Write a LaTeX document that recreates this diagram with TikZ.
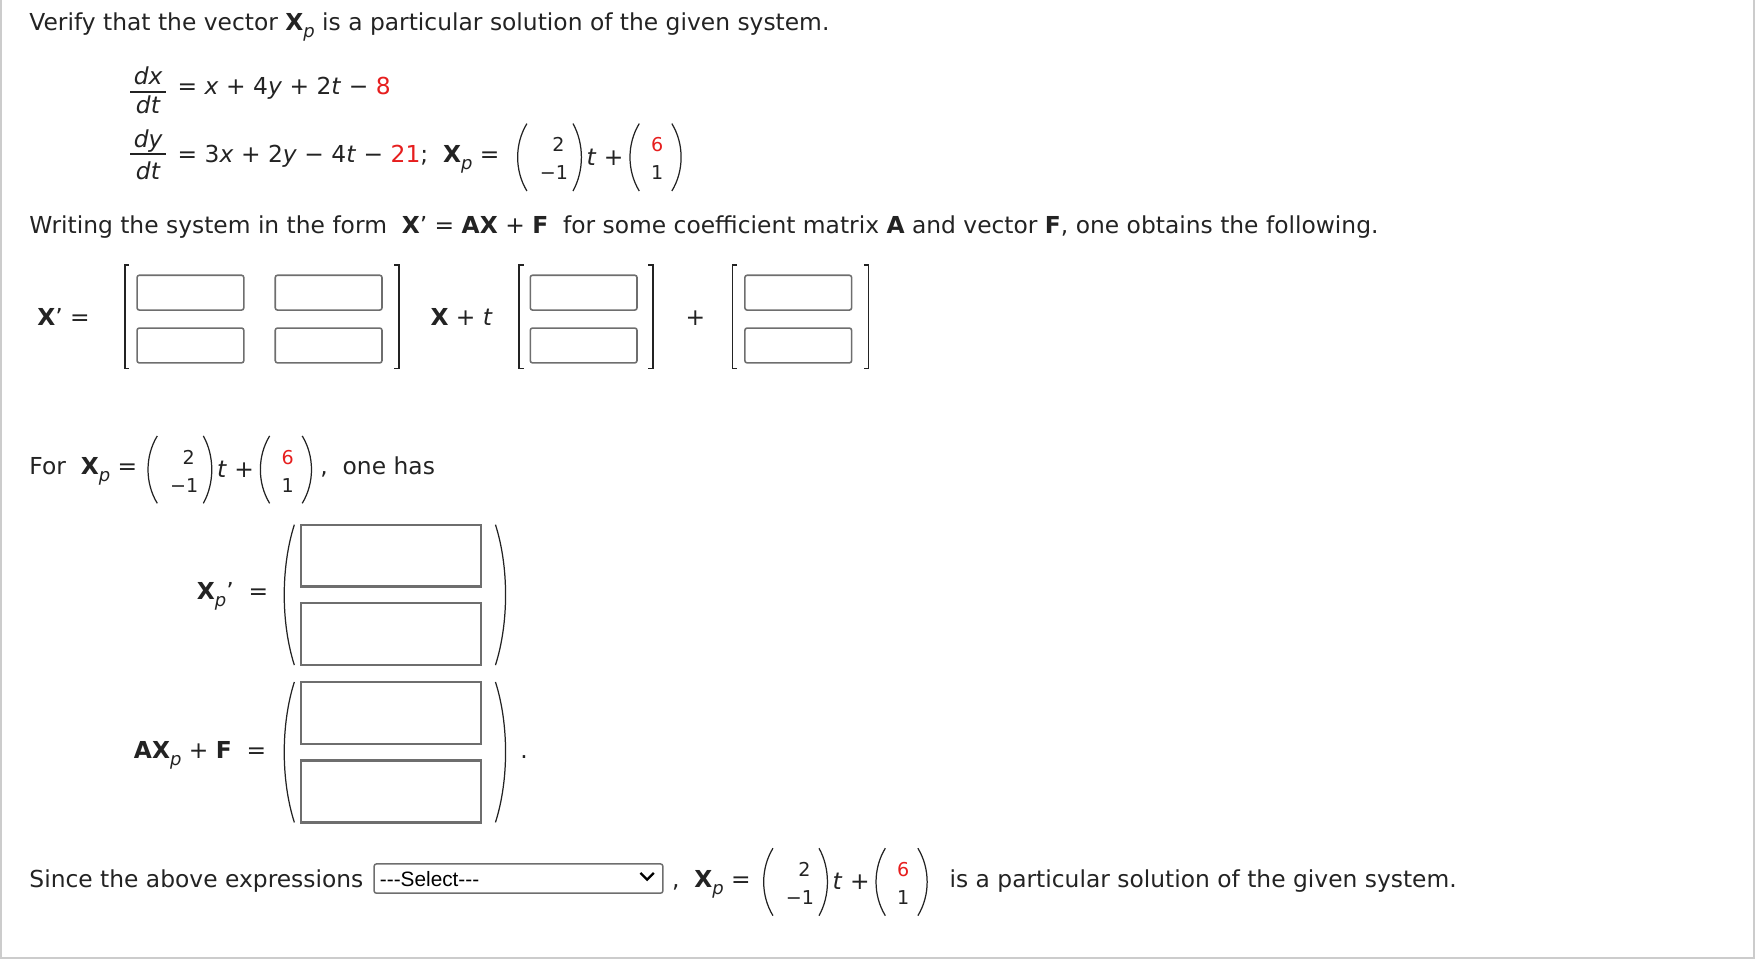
\documentclass[tikz,border=0pt]{standalone}
\usepackage{fontspec}
\setmainfont{DejaVu Sans}
\newfontfamily\arialf{Liberation Sans}
\definecolor{qred}{RGB}{230,30,30}
\definecolor{qtext}{RGB}{35,35,35}
\definecolor{qbox}{RGB}{110,110,110}
\newcommand\fsm{\fontsize{20.8}{24}\selectfont}
\newcommand\Xp{\textbf{X}\raisebox{-0.3em}{\fontsize{16}{16}\selectfont\textit{p}}}
\newcommand\lpar[4]{\draw[pline] ({#1+#4},#2) .. controls (#1,{#2+0.3*(#3-#2)}) and (#1,{#3-0.3*(#3-#2)}) .. ({#1+#4},#3);}
\newcommand\vp[3]{%
\begin{scope}[shift={(#1,#2)}]
\lpar{0}{-30}{30}{11}
\node[vt] (#3a) at (39,-5) {2};
\node[vt] (#3b) at (35,20) {−1};
\lpar{62}{-30}{30}{-10}
\node[tx] (#3t) at (64,7) {\textit{t} +};
\lpar{100}{-30}{30}{11}
\node[vt,text=qred] (#3c) at (127,-5) {6};
\node[vt] (#3d) at (127,20) {1};
\lpar{151}{-30}{30}{-11}
\end{scope}}
\newcommand\lbrk[3]{\draw[bline] ({#1+4},#2) -- (#1,#2) -- (#1,#3) -- ({#1+4},#3);}
\newcommand\rbrk[3]{\draw[bline] ({#1-4},#2) -- (#1,#2) -- (#1,#3) -- ({#1-4},#3);}
\begin{document}
\begin{tikzpicture}[x=1pt,y=-1pt,
  tx/.style={anchor=base west,inner sep=0,font=\fsm,text=qtext},
  vt/.style={anchor=base,inner sep=0,font=\fontsize{17}{18}\selectfont,text=qtext},
  pline/.style={draw=qtext,line width=1.1pt},
  bline/.style={draw=qtext,line width=1.6pt},
  ibox/.style={draw=qbox,line width=1.4pt,rounded corners=2pt},
  sbox/.style={draw=qbox,line width=2pt}]
\useasboundingbox (0,0) rectangle (1563,856);
\draw[draw=black!20,line width=1.5pt] (1,-2) -- (1,853) -- (1561,853) -- (1561,-2);
\node[tx] (l1) at (26,27) {Verify that the vector \Xp\ is a particular solution of the given system.};
% equation 1
\node[vt,font=\fsm] (n1) at (132,75) {\textit{dx}};
\draw[draw=qtext,line width=1.2pt] (116,82) -- (148,82);
\node[vt,font=\fsm] (d1) at (132,101) {\textit{dt}};
\node[tx] (e1) at (158,84) {= \textit{x} + 4\textit{y} + 2\textit{t} − \textcolor{qred}{8}};
% equation 2
\node[vt,font=\fsm] (n2) at (132,131) {\textit{dy}};
\draw[draw=qtext,line width=1.2pt] (116,137) -- (148,137);
\node[vt,font=\fsm] (d2) at (132,160) {\textit{dt}};
\node[tx] (e2) at (158,145) {= 3\textit{x} + 2\textit{y} − 4\textit{t} − \textcolor{qred}{21};\ \ \Xp\ =};
\vp{458}{140}{va}
% writing line
\node[tx] (l2) at (26,208) {Writing the system in the form\ \ \textbf{X}' = \textbf{AX} + \textbf{F}\ \ for some coefficient matrix \textbf{A} and vector \textbf{F}, one obtains the following.};
% matrix row
\node[tx] (xe) at (33,290) {\textbf{X}' =};
\lbrk{111}{236}{328}
\draw[ibox] (122,245) rectangle (217,276);
\draw[ibox] (245,245) rectangle (340,276);
\draw[ibox] (122,292) rectangle (217,323);
\draw[ibox] (245,292) rectangle (340,323);
\rbrk{355}{236}{328}
\node[tx] (xt) at (383,290) {\textbf{X} + \textit{t}};
\lbrk{462}{236}{328}
\draw[ibox] (472,245) rectangle (567,276);
\draw[ibox] (472,292) rectangle (567,323);
\rbrk{581}{236}{328}
\node[tx] (pl) at (610,290) {+};
\lbrk{652}{236}{328}
\draw[ibox] (663,245) rectangle (758,276);
\draw[ibox] (663,292) rectangle (758,323);
\rbrk{773}{236}{328}
% For line
\node[tx] (fr) at (26,422) {For\ \ \Xp\ =};
\vp{129}{418}{vb}
\node[tx] (oh) at (285,422) {,\ \ one has};
% Xp'
\node[tx] (xpp) at (175,534) {\Xp'\ \ =};
\lpar{250}{467}{592}{12}
\draw[sbox] (268,467) rectangle (428,522);
\draw[sbox] (268,537) rectangle (428,592);
\lpar{453}{467}{592}{-12}
% AXp+F
\node[tx] (axf) at (119,675) {\textbf{A}\Xp\ + \textbf{F}\ \ =};
\lpar{250}{607}{732}{12}
\draw[sbox] (268,607) rectangle (428,662);
\draw[sbox] (268,677) rectangle (428,732);
\lpar{453}{607}{732}{-12}
\node[tx] (dot) at (463,675) {.};
% last line
\node[tx] (sn) at (26,790) {Since the above expressions};
\draw[draw=qbox,line width=1.3pt,rounded corners=2pt] (333,769) rectangle (590,795);
\node[anchor=base west,inner sep=0,font=\arialf\fontsize{18.5}{20}\selectfont,text=black] (sel) at (338,789) {---Select---};
\draw[draw=black,line width=2pt] (570,777) -- (576,783) -- (582,777);
\node[tx] (cm) at (598,790) {,\ \ \Xp\ =};
\vp{677}{785}{vc}
\node[tx] (ip) at (845,790) {is a particular solution of the given system.};
\end{tikzpicture}
\end{document}
